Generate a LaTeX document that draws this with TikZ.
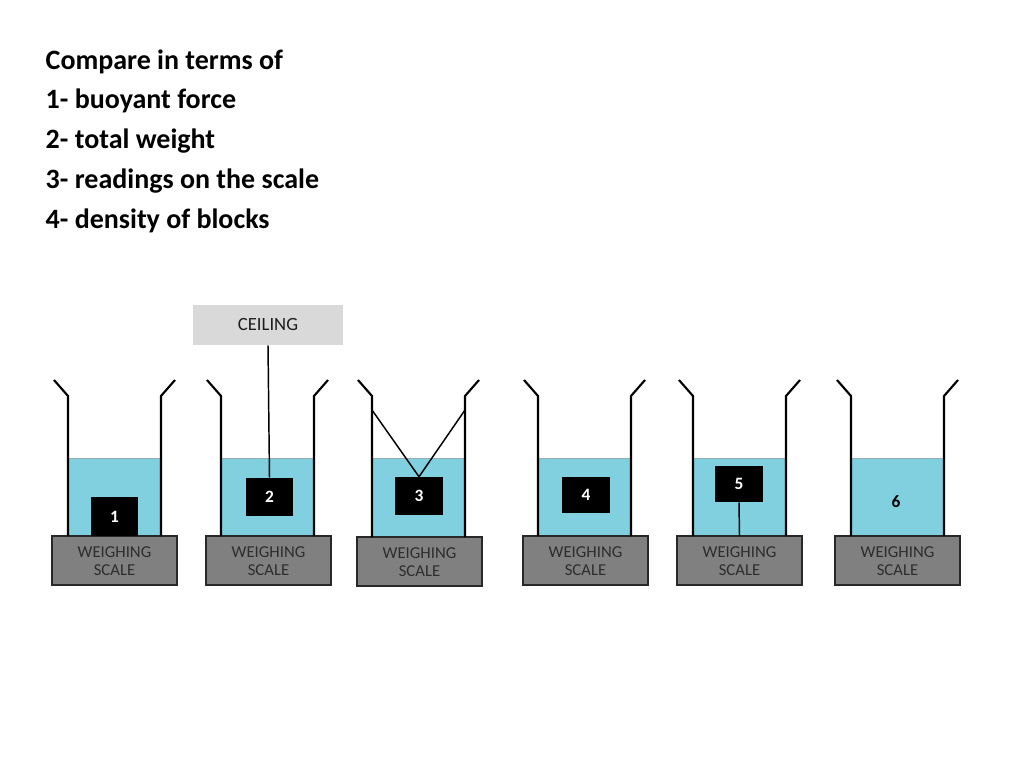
\documentclass[tikz,border=0pt]{standalone}
\usepackage{fontspec}
\setmainfont{Carlito}
\begin{document}
\begin{tikzpicture}[x=0.75pt,y=-0.75pt,
  wall/.style={line width=1.6pt,black},
  water/.style={fill={rgb,255:red,128;green,208;blue,224},draw={rgb,255:red,150;green,175;blue,180},line width=0.5pt},
  scalebox/.style={fill={rgb,255:red,128;green,128;blue,128},draw={rgb,255:red,40;green,40;blue,40},line width=0.9pt},
  scaletxt/.style={text={rgb,255:red,45;green,45;blue,45},font=\fontsize{12.5}{14.5}\selectfont,align=center},
  blk/.style={fill=black,text=white,font=\bfseries\fontsize{13}{15}\selectfont},
  str/.style={line width=1.1pt,black},
  title/.style={anchor=west,font=\bfseries\fontsize{21}{25}\selectfont}]
\useasboundingbox (0,0) rectangle (1024,768);
\node[title] (t1) at (41,62) {Compare in terms of};
\node[title] (t2) at (41,101) {1- buoyant force};
\node[title] (t3) at (41,141) {2- total weight};
\node[title] (t4) at (41,181) {3- readings on the scale};
\node[title] (t5) at (41,221) {4- density of blocks};
% beakers: left wall x, scale left, scale top
\foreach \L/\S/\T [count=\i] in {68/52/536, 221/206/536, 372/357/537, 538/523/536, 693/677/536, 851/835/536}{
  \fill[water] (\L,458) rectangle (\L+93,\T);
  \draw[scalebox] (\S,\T) rectangle (\S+125,\T+49);
  \node[scaletxt] (sc\i) at (\S+62.5,\T+25) {WEIGHING\\[-1pt]SCALE};
  \draw[wall] (\L-14,380) -- (\L,396) -- (\L,\T);
  \draw[wall] (\L+93,\T) -- (\L+93,396) -- (\L+107,380);
}
\node[fill={rgb,255:red,217;green,217;blue,217},minimum width=150*0.75pt,minimum height=40*0.75pt,inner sep=0pt,font=\fontsize{14}{16}\selectfont,text={rgb,255:red,30;green,30;blue,30}] (ceil) at (268,325) {CEILING};
\node[blk,minimum width=47*0.75pt,minimum height=39*0.75pt,inner sep=0pt] (b1) at (114.5,516.5) {1};
\node[blk,minimum width=47*0.75pt,minimum height=38*0.75pt,inner sep=0pt] (b2) at (269.5,497) {2};
\node[blk,minimum width=48*0.75pt,minimum height=38*0.75pt,inner sep=0pt] (b3) at (419,496) {3};
\node[blk,minimum width=48*0.75pt,minimum height=36*0.75pt,inner sep=0pt] (b4) at (586,495) {4};
\node[blk,minimum width=48*0.75pt,minimum height=36*0.75pt,inner sep=0pt] (b5) at (739,484) {5};
\node[font=\bfseries\fontsize{13}{15}\selectfont] (b6) at (896,502) {6};
\draw[str] (ceil.south) -- (b2.north);
\coordinate (k1) at (372,410); \coordinate (k2) at (465,410);
\draw[str] (k1) -- (b3.north) -- (k2);
\draw[str] (b5.south) -- (sc5.north |- 0,536);
\end{tikzpicture}
\end{document}
